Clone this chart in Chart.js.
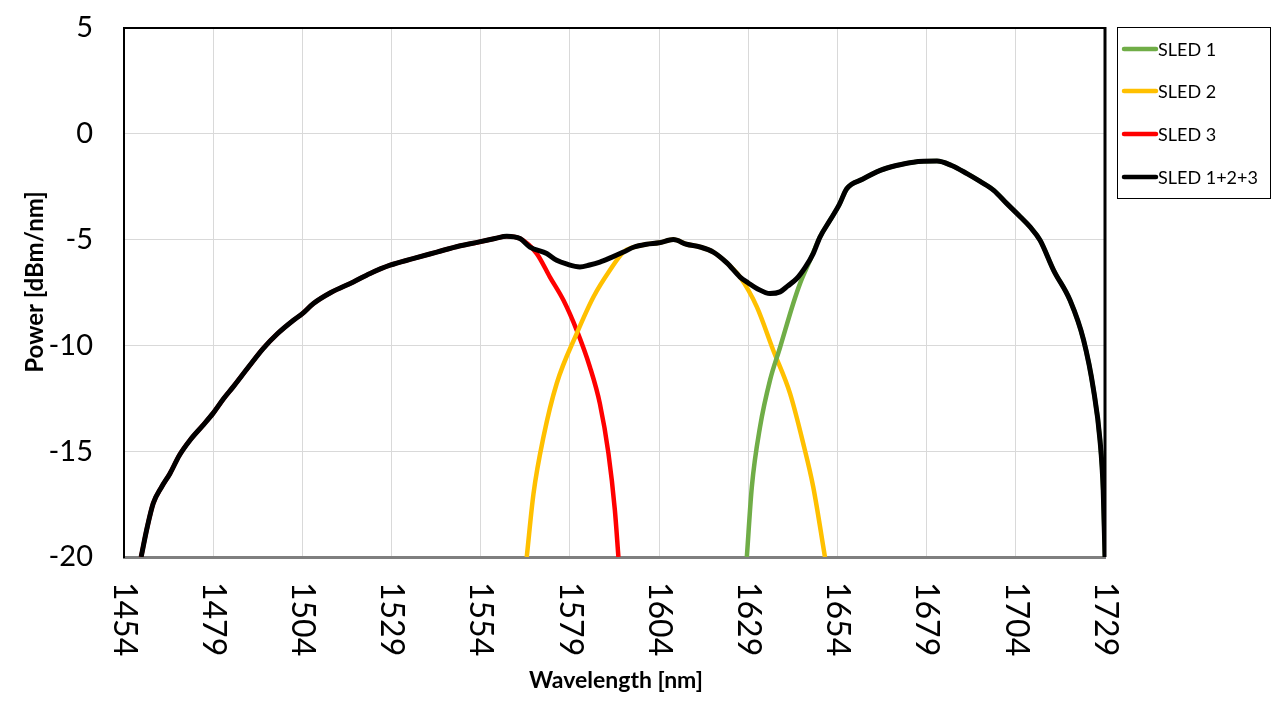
<!DOCTYPE html>
<html>
<head>
<meta charset="utf-8">
<script src="https://cdn.jsdelivr.net/npm/chart.js@4"></script>
<style>
  html, body { margin: 0; padding: 0; background: #ffffff; }
  #wrap { width: 1280px; height: 720px; position: relative; }
</style>
</head>
<body>
<div id="wrap"><canvas id="c"></canvas></div>
<script>
// ---- Data ----
const seriesLabels = ['SLED 1', 'SLED 2', 'SLED 3', 'SLED 1+2+3'];
const seriesColors = ['#70AD47', '#FFC000', '#FF0000', '#000000'];

const xTicks = [1454, 1479, 1504, 1529, 1554, 1579, 1604, 1629, 1654, 1679, 1704, 1729];
const yTicks = [-20, -15, -10, -5, 0, 5];

const sled1X = [1628.6, 1630.0, 1632.3, 1635.1, 1637.9, 1641.6, 1643.5, 1646.3, 1649.1, 1651.9, 1654.5, 1656.6, 1661, 1666.0, 1670.5, 1675.3, 1681.9, 1686, 1690.3, 1694, 1697.8, 1701.5, 1705.3, 1708, 1710.8, 1714.6, 1719.2, 1723.0, 1725.8, 1727.6, 1728.5, 1729];
const sled1Y = [-20, -16.68, -13.85, -11.64, -10.1, -8.02, -7.08, -5.98, -4.88, -4.09, -3.35, -2.60, -2.15, -1.73, -1.5, -1.34, -1.29, -1.5, -1.88, -2.25, -2.67, -3.3, -3.93, -4.4, -5.03, -6.45, -7.87, -9.75, -12.11, -14.48, -16.84, -20];

const sled2X = [1566.9, 1568.8, 1571.6, 1575.3, 1580.9, 1585.6, 1590.2, 1594.0, 1597, 1600.5, 1604, 1608.0, 1611.7, 1615.5, 1619.2, 1623, 1626.7, 1631.4, 1636.0, 1640.7, 1644.4, 1647.2, 1650.5];
const sled2Y = [-20, -17.0, -14.32, -11.8, -9.44, -7.71, -6.45, -5.59, -5.35, -5.22, -5.15, -5.0, -5.22, -5.35, -5.59, -6.1, -6.77, -8.18, -10.23, -12.27, -14.63, -16.68, -20];

const sled3X = [1458.8, 1460.5, 1462.2, 1464.5, 1466.9, 1469.5, 1472.5, 1476, 1479.0, 1482, 1484.6, 1489, 1493.0, 1497, 1501.5, 1504, 1507.1, 1512, 1518.3, 1523, 1528.6, 1535, 1541.7, 1548, 1553.6, 1558, 1561.3, 1565.0, 1569.7, 1573.4, 1577.2, 1580.9, 1584.6, 1587.4, 1589.8, 1591.6, 1592.6];
const sled3Y = [-20, -18.6, -17.46, -16.7, -16.05, -15.2, -14.48, -13.8, -13.2, -12.5, -11.96, -11.0, -10.15, -9.45, -8.81, -8.5, -8.02, -7.5, -7.0, -6.6, -6.21, -5.9, -5.59, -5.3, -5.11, -4.95, -4.84, -4.95, -5.66, -6.77, -7.87, -9.28, -11.02, -12.75, -15.1, -17.78, -20];

const totalX = [1458.8, 1460.5, 1462.2, 1464.5, 1466.9, 1469.5, 1472.5, 1476, 1479.0, 1482, 1484.6, 1489, 1493.0, 1497, 1501.5, 1504, 1507.1, 1512, 1518.3, 1523, 1528.6, 1535, 1541.7, 1548, 1553.6, 1558, 1561.3, 1565.0, 1567.8, 1572.5, 1575.3, 1578, 1581.8, 1584.5, 1587.4, 1590.5, 1594.0, 1597, 1600.5, 1604, 1608.0, 1611.7, 1615.5, 1619.2, 1623, 1626.7, 1629, 1631.4, 1635.1, 1637.9, 1640, 1642.6, 1645, 1647.2, 1649.1, 1651.9, 1654.5, 1656.6, 1661, 1666.0, 1670.5, 1675.3, 1681.9, 1686, 1690.3, 1694, 1697.8, 1701.5, 1705.3, 1708, 1710.8, 1714.6, 1719.2, 1723.0, 1725.8, 1727.6, 1728.5, 1729];
const totalY = [-20, -18.6, -17.46, -16.7, -16.05, -15.2, -14.48, -13.8, -13.2, -12.5, -11.96, -11.0, -10.15, -9.45, -8.81, -8.5, -8.02, -7.5, -7.0, -6.6, -6.21, -5.9, -5.59, -5.3, -5.11, -4.95, -4.84, -4.95, -5.35, -5.66, -5.98, -6.15, -6.29, -6.2, -6.06, -5.85, -5.59, -5.35, -5.22, -5.15, -5.0, -5.22, -5.35, -5.59, -6.1, -6.77, -7.05, -7.31, -7.55, -7.47, -7.2, -6.84, -6.3, -5.66, -4.88, -4.09, -3.35, -2.60, -2.15, -1.73, -1.5, -1.34, -1.29, -1.5, -1.88, -2.25, -2.67, -3.3, -3.93, -4.4, -5.03, -6.45, -7.87, -9.75, -12.11, -14.48, -16.84, -20];

const xAxisTitle = 'Wavelength [nm]';
const yAxisTitle = 'Power [dBm/nm]';

// ---- Build datasets ----
function pts(xs, ys) { return xs.map((x, i) => ({ x: x, y: ys[i] })); }
const seriesData = [pts(sled1X, sled1Y), pts(sled2X, sled2Y), pts(sled3X, sled3Y), pts(totalX, totalY)];

const datasets = seriesLabels.map((lab, i) => ({
  label: lab,
  data: seriesData[i],
  borderColor: seriesColors[i],
  backgroundColor: seriesColors[i],
  borderWidth: i === 3 ? 5 : 4.5,
  pointRadius: 0,
  fill: false,
  cubicInterpolationMode: 'monotone',
  order: i === 3 ? 0 : 1
}));

const PLOT = { left: 124, top: 28, right: 1105, bottom: 557 };

const decor = {
  id: 'decor',
  afterDraw(chart) {
    const ctx = chart.ctx;
    const a = chart.chartArea;
    ctx.save();
    // top & right frame
    ctx.strokeStyle = '#000000';
    ctx.lineWidth = 2;
    ctx.beginPath();
    ctx.moveTo(a.left - 1, a.top);
    ctx.lineTo(a.right, a.top);
    ctx.stroke();
    ctx.lineWidth = 3;
    ctx.beginPath();
    ctx.moveTo(a.right, a.top - 1);
    ctx.lineTo(a.right, a.bottom);
    ctx.stroke();

    // x tick labels rotated clockwise
    const xs = chart.scales.x;
    ctx.fillStyle = '#000000';
    ctx.font = '32px Lato';
    ctx.textAlign = 'left';
    ctx.textBaseline = 'middle';
    xTicks.forEach(v => {
      const px = xs.getPixelForValue(v);
      ctx.save();
      ctx.translate(px, a.bottom + 25);
      ctx.rotate(Math.PI / 2);
      ctx.fillText(String(v), 0, 0);
      ctx.restore();
    });

    // axis titles
    ctx.font = 'bold 23px Lato';
    ctx.textAlign = 'center';
    ctx.textBaseline = 'middle';
    ctx.fillText(xAxisTitle, 616, 681);
    ctx.font = 'bold 24px Lato';
    ctx.save();
    ctx.translate(35, 282);
    ctx.rotate(-Math.PI / 2);
    ctx.fillText(yAxisTitle, 0, 0);
    ctx.restore();

    // legend
    ctx.lineWidth = 1;
    ctx.strokeStyle = '#000000';
    ctx.strokeRect(1117.5, 27.5, 153, 171);
    const rows = [49, 91, 134, 177];
    ctx.font = '18px Lato';
    ctx.textAlign = 'left';
    chart.data.datasets.forEach((ds, i) => {
      const y = rows[i];
      ctx.strokeStyle = ds.borderColor;
      ctx.lineWidth = 4.5;
      ctx.lineCap = 'round';
      ctx.beginPath();
      ctx.moveTo(1124, y);
      ctx.lineTo(1156, y);
      ctx.stroke();
      ctx.fillStyle = '#000000';
      ctx.fillText(ds.label, 1158, y + 1);
    });
    ctx.restore();
  }
};

function build() {
  Chart.defaults.font.family = 'Lato';
  new Chart(document.getElementById('c'), {
    type: 'line',
    data: { datasets: datasets },
    plugins: [decor],
    options: {
      responsive: true,
      maintainAspectRatio: false,
      animation: false,
      layout: { padding: { top: PLOT.top, right: 1280 - PLOT.right, left: 0, bottom: 0 } },
      plugins: { legend: { display: false }, tooltip: { enabled: false } },
      scales: {
        x: {
          type: 'linear',
          min: xTicks[0],
          max: xTicks[xTicks.length - 1],
          afterBuildTicks(scale) { scale.ticks = xTicks.map(v => ({ value: v })); },
          afterFit(scale) { scale.height = 720 - PLOT.bottom; scale.paddingLeft = 0; scale.paddingRight = 0; },
          ticks: { display: false },
          grid: { color: '#d9d9d9', lineWidth: 1, drawTicks: false },
          border: { display: true, color: '#7f7f7f', width: 3 }
        },
        y: {
          type: 'linear',
          min: yTicks[0],
          max: yTicks[yTicks.length - 1],
          afterBuildTicks(scale) { scale.ticks = yTicks.map(v => ({ value: v })); },
          afterFit(scale) { scale.width = PLOT.left; scale.paddingTop = 0; scale.paddingBottom = 0; },
          ticks: { color: '#000000', font: { size: 29, family: 'Lato' }, padding: 31 },
          grid: { color: '#d9d9d9', lineWidth: 1, drawTicks: false },
          border: { display: true, color: '#000000', width: 2 }
        }
      }
    }
  });
}

if (document.fonts && document.fonts.load) {
  Promise.all([
    document.fonts.load('32px Lato'),
    document.fonts.load('bold 23px Lato'),
    document.fonts.load('18px Lato')
  ]).then(build, build);
} else {
  build();
}
</script>
</body>
</html>
